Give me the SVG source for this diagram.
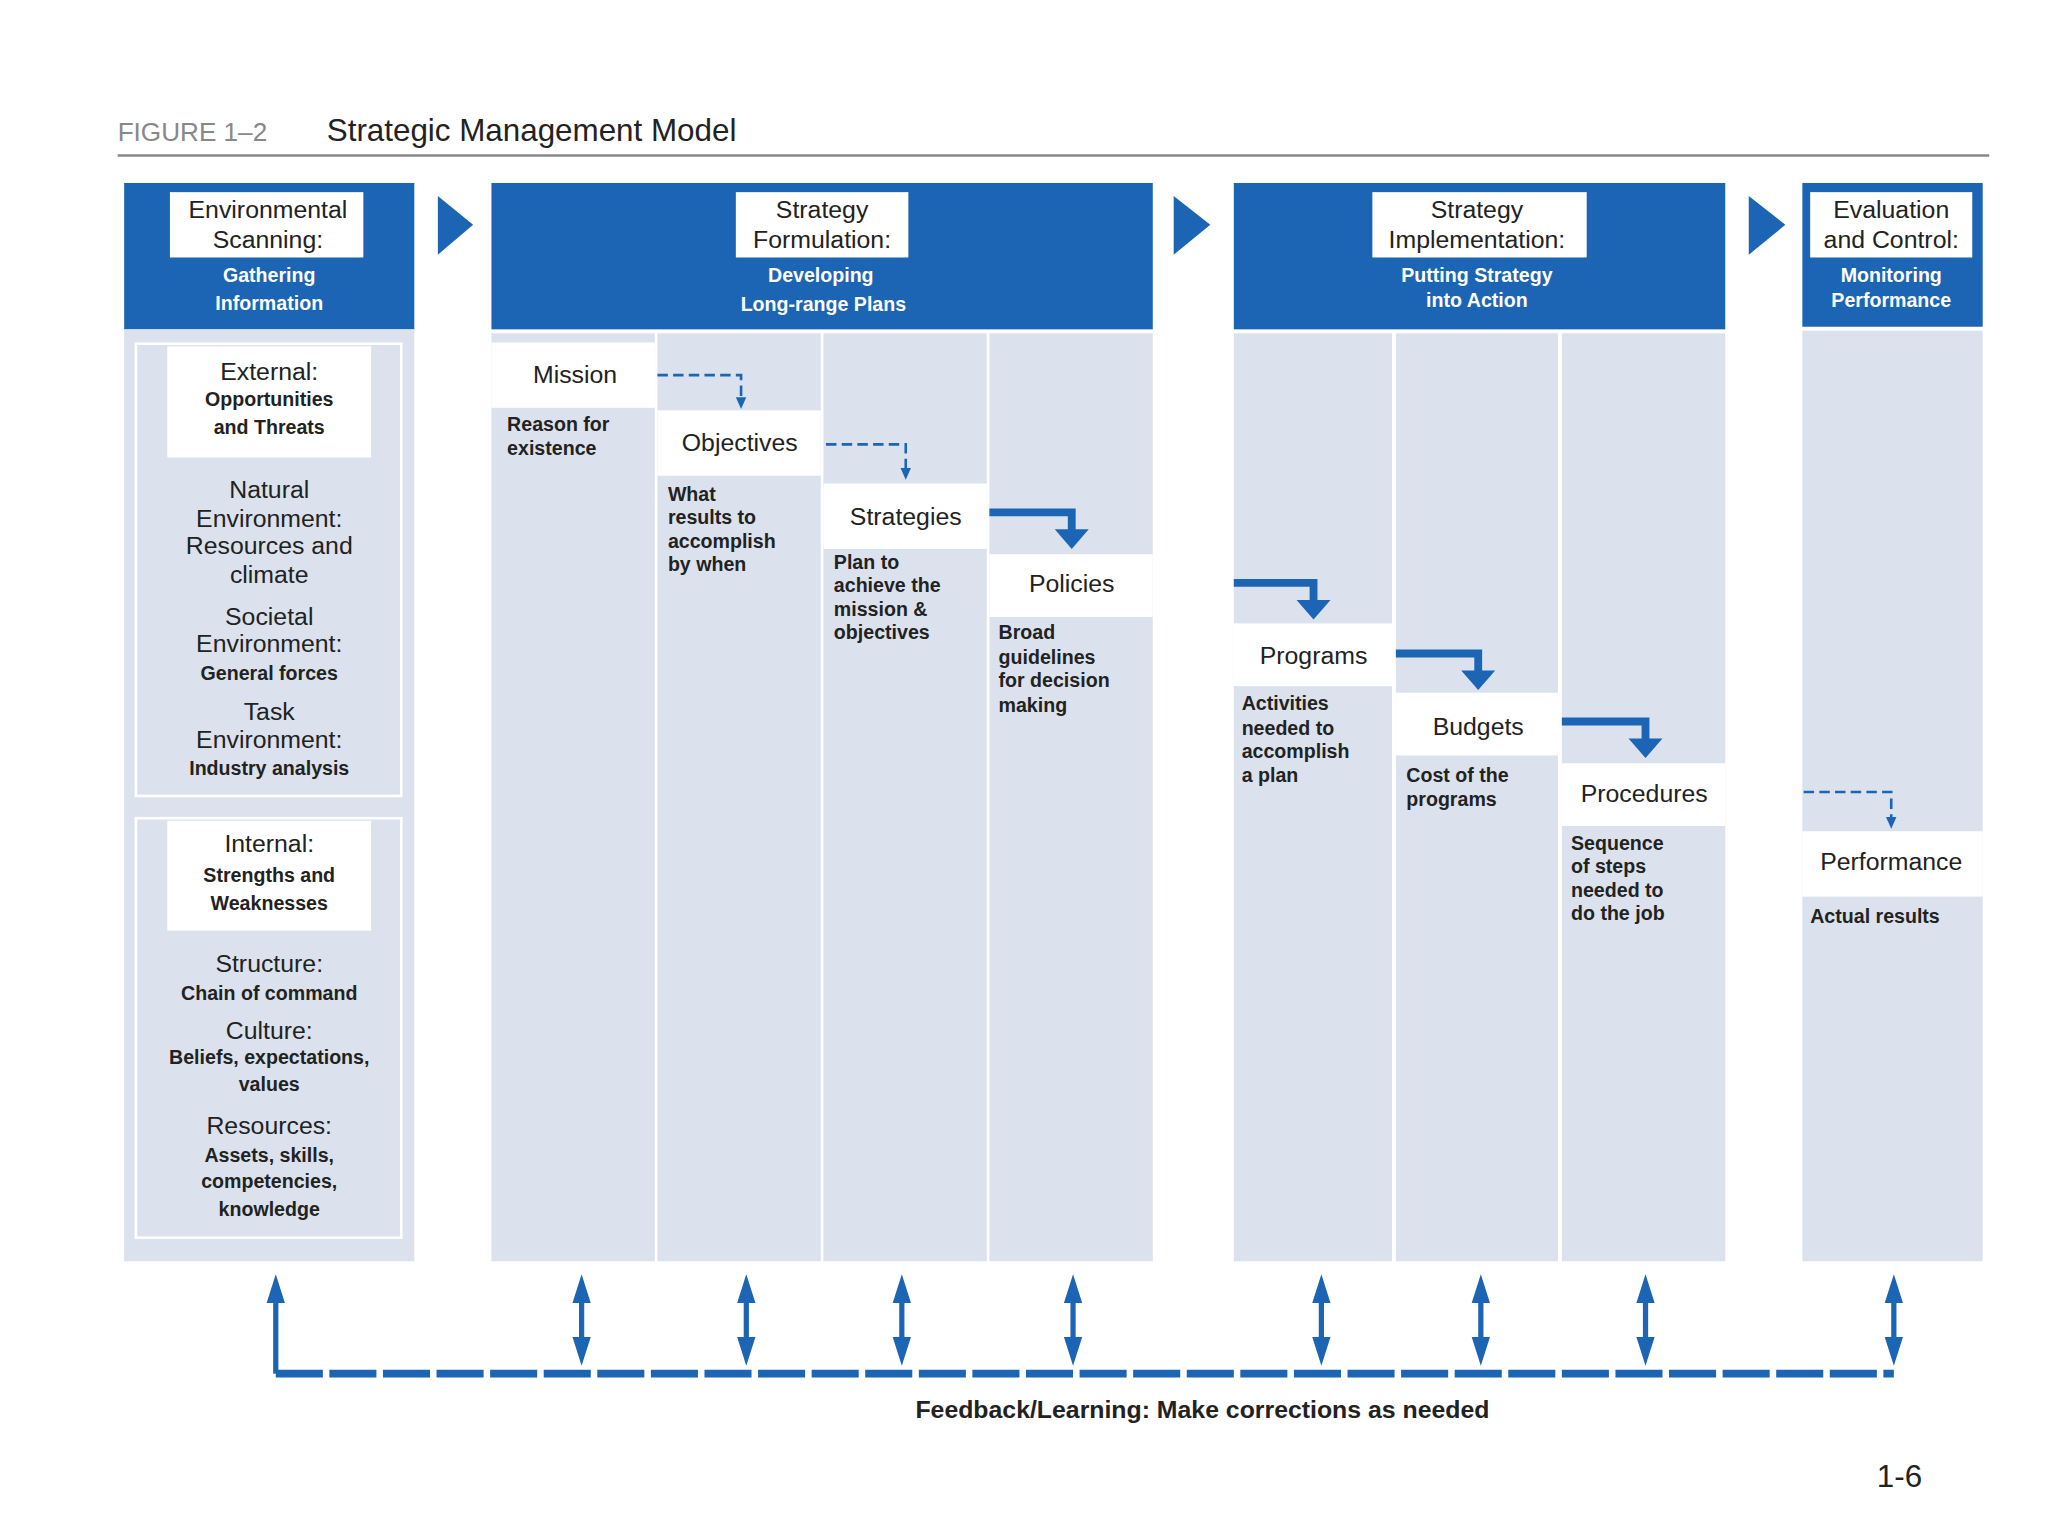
<svg xmlns="http://www.w3.org/2000/svg" width="2048" height="1536" viewBox="0 0 2048 1536">
<defs>
<style>
.hd{fill:#1c64b4}.lt{fill:#dbe2ee}.wh{fill:#fff}
text{font-family:"Liberation Sans",Arial,sans-serif;fill:#222}
.t{font-size:19px;text-anchor:middle}
.s{font-size:15px;font-weight:bold}
.c{text-anchor:middle}
.w{fill:#fff;font-size:15px;font-weight:bold;text-anchor:middle}
.thick{stroke:#1c64b4;stroke-width:6;fill:none}
.dash{stroke:#1c64b4;stroke-width:2;fill:none;stroke-dasharray:8,4}
.fb{stroke:#1c64b4;stroke-width:6;fill:none;stroke-dasharray:36,5}
.v{stroke:#1c64b4;stroke-width:4}
.ah{fill:#1c64b4}
</style>
<path id="dbl" d="M-7,22 L0,0 7,22z M-7,48 L0,70 7,48z"/>
</defs>
<rect width="2048" height="1536" fill="#fff"/>
<g transform="scale(1.307)">
<g id="title">
<text x="90" y="108" style="font-size:20px;fill:#888">FIGURE 1–2</text>
<text x="250" y="108" style="font-size:24px">Strategic Management Model</text>
<line x1="90" y1="119" x2="1522" y2="119" stroke="#888" stroke-width="2"/>
</g>
<g id="phase-arrows" fill="#1c64b4">
<path d="M335,150 L362,172 335,195z"/><path d="M898,150 L926,172 898,195z"/><path d="M1338,150 L1366,172 1338,195z"/>
</g>
<g id="env">
<rect class="hd" x="95" y="140" width="222" height="112"/>
<rect class="lt" x="95" y="252" width="222" height="713"/>
<rect class="wh" x="130" y="147" width="148" height="50"/>
<text class="t" x="205" y="167">Environmental</text><text class="t" x="205" y="190">Scanning:</text>
<text class="w" x="206" y="216">Gathering</text><text class="w" x="206" y="237">Information</text>
<rect x="104" y="263" width="203" height="346" fill="none" stroke="#fff" stroke-width="2"/>
<rect class="wh" x="128" y="265" width="156" height="85"/>
<text class="t" x="206" y="291">External:</text>
<text class="s c" x="206" y="311">Opportunities</text><text class="s c" x="206" y="332">and Threats</text>
<text class="t" x="206" y="381">Natural</text><text class="t" x="206" y="403">Environment:</text><text class="t" x="206" y="424">Resources and</text><text class="t" x="206" y="446">climate</text>
<text class="t" x="206" y="478">Societal</text><text class="t" x="206" y="499">Environment:</text><text class="s c" x="206" y="520">General forces</text>
<text class="t" x="206" y="551">Task</text><text class="t" x="206" y="572">Environment:</text><text class="s c" x="206" y="593">Industry analysis</text>
<rect x="104" y="626" width="203" height="321" fill="none" stroke="#fff" stroke-width="2"/>
<rect class="wh" x="128" y="628" width="156" height="84"/>
<text class="t" x="206" y="652">Internal:</text>
<text class="s c" x="206" y="675">Strengths and</text><text class="s c" x="206" y="696">Weaknesses</text>
<text class="t" x="206" y="744">Structure:</text><text class="s c" x="206" y="765">Chain of command</text>
<text class="t" x="206" y="795">Culture:</text><text class="s c" x="206" y="814">Beliefs, expectations,</text><text class="s c" x="206" y="835">values</text>
<text class="t" x="206" y="868">Resources:</text><text class="s c" x="206" y="889">Assets, skills,</text><text class="s c" x="206" y="909">competencies,</text><text class="s c" x="206" y="930">knowledge</text>
</g>
<g id="formulation">
<rect class="hd" x="376" y="140" width="506" height="112"/>
<rect class="wh" x="563" y="147" width="132" height="50"/>
<text class="t" x="629" y="167">Strategy</text><text class="t" x="629" y="190">Formulation:</text>
<text class="w" x="628" y="216">Developing</text><text class="w" x="630" y="238">Long-range Plans</text>
<rect class="lt" x="376" y="255" width="125" height="710"/>
<rect class="lt" x="503" y="255" width="125" height="710"/>
<rect class="lt" x="630" y="255" width="125" height="710"/>
<rect class="lt" x="757" y="255" width="125" height="710"/>
</g>
<g id="mission"><rect class="wh" x="376" y="262" width="125" height="50"/><text class="t" x="440" y="293">Mission</text>
<text class="s" x="388" y="330">Reason for</text><text class="s" x="388" y="348">existence</text></g>
<g id="objectives"><rect class="wh" x="503" y="314" width="125" height="50"/><text class="t" x="566" y="345">Objectives</text>
<text class="s" x="511" y="383">What</text><text class="s" x="511" y="401">results to</text><text class="s" x="511" y="419">accomplish</text><text class="s" x="511" y="437">by when</text></g>
<g id="strategies"><rect class="wh" x="630" y="370" width="125" height="50"/><text class="t" x="693" y="402">Strategies</text>
<text class="s" x="638" y="435">Plan to</text><text class="s" x="638" y="453">achieve the</text><text class="s" x="638" y="471">mission &amp;</text><text class="s" x="638" y="489">objectives</text></g>
<g id="policies"><rect class="wh" x="757" y="424" width="125" height="48"/><text class="t" x="820" y="453">Policies</text>
<text class="s" x="764" y="489">Broad</text><text class="s" x="764" y="508">guidelines</text><text class="s" x="764" y="526">for decision</text><text class="s" x="764" y="545">making</text></g>
<g id="implementation">
<rect class="hd" x="944" y="140" width="376" height="112"/>
<rect class="wh" x="1050" y="147" width="164" height="50"/>
<text class="t" x="1130" y="167">Strategy</text><text class="t" x="1130" y="190">Implementation:</text>
<text class="w" x="1130" y="216">Putting Strategy</text><text class="w" x="1130" y="235">into Action</text>
<rect class="lt" x="944" y="255" width="121" height="710"/>
<rect class="lt" x="1068" y="255" width="124" height="710"/>
<rect class="lt" x="1195" y="255" width="125" height="710"/>
</g>
<g id="programs"><rect class="wh" x="944" y="477" width="121" height="48"/><text class="t" x="1005" y="508">Programs</text>
<text class="s" x="950" y="543">Activities</text><text class="s" x="950" y="562">needed to</text><text class="s" x="950" y="580">accomplish</text><text class="s" x="950" y="598">a plan</text></g>
<g id="budgets"><rect class="wh" x="1068" y="530" width="124" height="48"/><text class="t" x="1131" y="562">Budgets</text>
<text class="s" x="1076" y="598">Cost of the</text><text class="s" x="1076" y="617">programs</text></g>
<g id="procedures"><rect class="wh" x="1195" y="584" width="125" height="48"/><text class="t" x="1258" y="614">Procedures</text>
<text class="s" x="1202" y="650">Sequence</text><text class="s" x="1202" y="668">of steps</text><text class="s" x="1202" y="686">needed to</text><text class="s" x="1202" y="704">do the job</text></g>
<g id="evaluation">
<rect class="hd" x="1379" y="140" width="138" height="110"/>
<rect class="wh" x="1385" y="147" width="124" height="50"/>
<text class="t" x="1447" y="167">Evaluation</text><text class="t" x="1447" y="190">and Control:</text>
<text class="w" x="1447" y="216">Monitoring</text><text class="w" x="1447" y="235">Performance</text>
<rect class="lt" x="1379" y="253" width="138" height="712"/>
</g>
<g id="performance"><rect class="wh" x="1379" y="636" width="138" height="50"/><text class="t" x="1447" y="666">Performance</text>
<text class="s" x="1385" y="706">Actual results</text></g>
<g id="connectors">
<path class="dash" d="M503,287 H567 V305"/><path class="ah" d="M563,304 L571,304 567,313z"/>
<path class="dash" d="M632,340 H693 V359"/><path class="ah" d="M689,358 L697,358 693,367z"/>
<path class="thick" d="M757,392 H820 V406"/><path class="ah" d="M807,405 L833,405 820,420z"/>
<path class="thick" d="M944,446 H1005 V460"/><path class="ah" d="M992,459 L1018,459 1005,474z"/>
<path class="thick" d="M1068,500 H1131 V514"/><path class="ah" d="M1118,513 L1144,513 1131,528z"/>
<path class="thick" d="M1195,552 H1259 V566"/><path class="ah" d="M1246,565 L1272,565 1259,580z"/>
<path class="dash" d="M1380,606 H1447 V626"/><path class="ah" d="M1443,625 L1451,625 1447,634z"/>
<path class="fb" d="M211,1051 H1449"/>
<line class="v" x1="211" y1="1051" x2="211" y2="995"/><path class="ah" d="M204,997 L211,975 218,997z"/>
<g class="ah">
<line class="v" x1="445" y1="995" x2="445" y2="1025"/><use href="#dbl" x="445" y="975"/>
<line class="v" x1="571" y1="995" x2="571" y2="1025"/><use href="#dbl" x="571" y="975"/>
<line class="v" x1="690" y1="995" x2="690" y2="1025"/><use href="#dbl" x="690" y="975"/>
<line class="v" x1="821" y1="995" x2="821" y2="1025"/><use href="#dbl" x="821" y="975"/>
<line class="v" x1="1011" y1="995" x2="1011" y2="1025"/><use href="#dbl" x="1011" y="975"/>
<line class="v" x1="1133" y1="995" x2="1133" y2="1025"/><use href="#dbl" x="1133" y="975"/>
<line class="v" x1="1259" y1="995" x2="1259" y2="1025"/><use href="#dbl" x="1259" y="975"/>
<line class="v" x1="1449" y1="995" x2="1449" y2="1025"/><use href="#dbl" x="1449" y="975"/>
</g>
</g>
<text x="920" y="1085" style="font-size:19px;font-weight:bold;text-anchor:middle">Feedback/Learning: Make corrections as needed</text>
<text x="1436" y="1138" style="font-size:24px">1-6</text>
</g>
</svg>
